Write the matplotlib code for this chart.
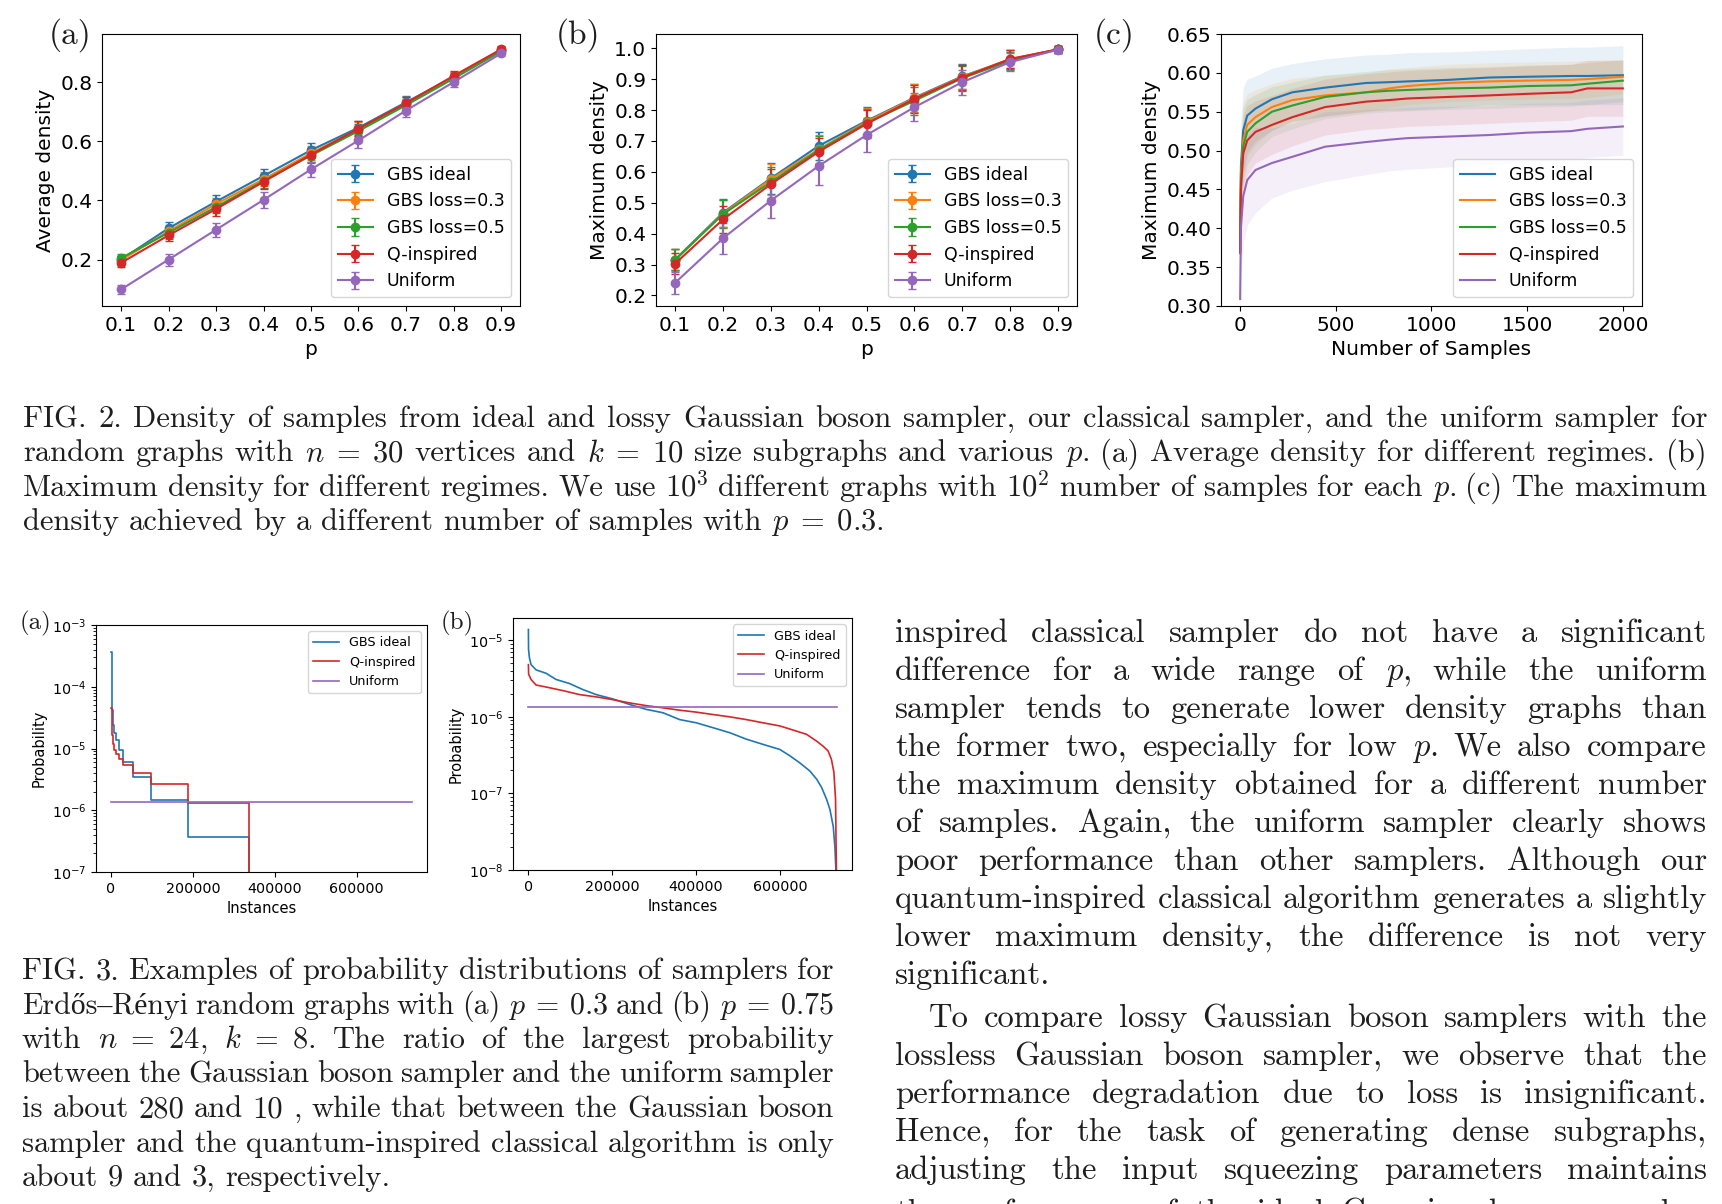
import re
import numpy as np
import matplotlib
matplotlib.use("Agg")
import matplotlib.pyplot as plt

W, H = 1722, 1204
SERIF = ["cmr10", "Liberation Serif", "DejaVu Serif"]
INK = "#1e1e1e"

############################################
# DATA - FIG. 2
############################################
p_vals = [0.1, 0.2, 0.3, 0.4, 0.5, 0.6, 0.7, 0.8, 0.9]
names5 = ["GBS ideal", "GBS loss=0.3", "GBS loss=0.5", "Q-inspired", "Uniform"]

avg_ideal = [0.200, 0.306, 0.396, 0.483, 0.570, 0.646, 0.732, 0.817, 0.908]
avg_loss03 = [0.198, 0.296, 0.388, 0.472, 0.560, 0.641, 0.729, 0.817, 0.908]
avg_loss05 = [0.205, 0.291, 0.378, 0.466, 0.552, 0.635, 0.722, 0.812, 0.904]
avg_qinsp = [0.189, 0.282, 0.371, 0.463, 0.555, 0.643, 0.729, 0.821, 0.911]
avg_unif = [0.099, 0.200, 0.301, 0.402, 0.505, 0.603, 0.704, 0.800, 0.897]
avg_err_gbs = [0.013, 0.020, 0.022, 0.024, 0.024, 0.024, 0.020, 0.017, 0.010]
avg_err_unif = [0.014, 0.020, 0.024, 0.027, 0.026, 0.024, 0.022, 0.018, 0.010]

max_ideal = [0.316, 0.468, 0.579, 0.684, 0.765, 0.840, 0.909, 0.963, 0.996]
max_loss03 = [0.314, 0.465, 0.576, 0.673, 0.762, 0.838, 0.907, 0.965, 0.996]
max_loss05 = [0.316, 0.463, 0.567, 0.670, 0.758, 0.830, 0.903, 0.959, 0.996]
max_qinsp = [0.303, 0.446, 0.560, 0.665, 0.755, 0.836, 0.905, 0.965, 0.996]
max_unif = [0.241, 0.385, 0.507, 0.619, 0.719, 0.809, 0.890, 0.955, 0.995]
max_err_gbs = [0.035, 0.045, 0.050, 0.045, 0.045, 0.045, 0.040, 0.030, 0.010]
max_err_unif = [0.035, 0.050, 0.055, 0.060, 0.055, 0.045, 0.040, 0.030, 0.010]

n_samples = [1, 5, 17, 38, 81, 167, 274, 445, 659, 780, 874, 1088, 1302, 1500, 1730, 1815, 2000]
cur_ideal = [0.370, 0.480, 0.526, 0.545, 0.554, 0.566, 0.575, 0.581, 0.587, 0.588, 0.589,
             0.591, 0.594, 0.595, 0.596, 0.596, 0.597]
cur_loss03 = [0.370, 0.470, 0.513, 0.533, 0.543, 0.556, 0.565, 0.571, 0.575, 0.580, 0.583,
              0.587, 0.589, 0.590, 0.591, 0.592, 0.595]
cur_loss05 = [0.370, 0.460, 0.505, 0.524, 0.535, 0.550, 0.558, 0.569, 0.575, 0.577, 0.578,
              0.580, 0.581, 0.583, 0.584, 0.586, 0.590]
cur_qinsp = [0.368, 0.450, 0.496, 0.513, 0.524, 0.533, 0.543, 0.556, 0.563, 0.565, 0.567,
             0.569, 0.571, 0.573, 0.575, 0.580, 0.580]
cur_unif = [0.309, 0.400, 0.441, 0.462, 0.475, 0.484, 0.492, 0.505, 0.511, 0.514, 0.516,
            0.518, 0.520, 0.523, 0.525, 0.528, 0.531]
sd_ideal = [0.060, 0.060, 0.055, 0.047, 0.042, 0.040, 0.037, 0.037, 0.036, 0.036, 0.037,
            0.036, 0.035, 0.036, 0.037, 0.037, 0.038]
sd_loss03 = [0.060, 0.055, 0.050, 0.040, 0.035, 0.030, 0.028, 0.026, 0.025, 0.025, 0.024,
             0.024, 0.024, 0.024, 0.024, 0.024, 0.022]
sd_loss05 = [0.060, 0.055, 0.050, 0.042, 0.037, 0.032, 0.030, 0.028, 0.027, 0.027, 0.027,
             0.027, 0.027, 0.027, 0.027, 0.027, 0.027]
sd_qinsp = [0.060, 0.055, 0.050, 0.045, 0.040, 0.038, 0.037, 0.036, 0.036, 0.036, 0.036,
            0.036, 0.036, 0.036, 0.036, 0.036, 0.036]
sd_unif = [0.050, 0.060, 0.060, 0.058, 0.055, 0.045, 0.043, 0.045, 0.042, 0.040, 0.040,
           0.039, 0.038, 0.038, 0.037, 0.037, 0.037]

############################################
# DATA - FIG. 3
############################################
names3 = ["GBS ideal", "Q-inspired", "Uniform"]
n_inst = 735471
p_unif = 1.0 / n_inst

inst_a_gbs = [0, 2450, 4900, 8160, 12240, 18770, 30200, 54700, 97900, 187700, 336200]
prob_a_gbs = [3.7e-4, 4.2e-5, 2.4e-5, 1.8e-5, 1.37e-5, 9.4e-6, 6.0e-6, 3.4e-6, 1.49e-6, 3.7e-7, 0]
inst_a_q = [0, 1600, 4100, 8160, 12240, 18770, 30200, 54700, 97900, 187700, 336200]
prob_a_q = [4.5e-5, 1.65e-5, 1.2e-5, 9.4e-6, 8.1e-6, 6.7e-6, 5.4e-6, 4.0e-6, 2.65e-6, 1.31e-6, 0]

inst_b_gbs = [0, 300, 2390, 6370, 18330, 42230, 66130, 98010, 129880, 161750, 200000, 241430,
              281270, 321110, 360950, 400790, 440630, 480470, 520310, 560150, 599990, 623900,
              647800, 671700, 687640, 699590, 711540, 719500, 727480, 731460, 733850, 735470]
prob_b_gbs = [1.38e-5, 7.6e-6, 5.9e-6, 4.8e-6, 4.1e-6, 3.7e-6, 3.07e-6, 2.72e-6, 2.27e-6,
              1.95e-6, 1.72e-6, 1.45e-6, 1.25e-6, 1.13e-6, 9.2e-7, 8.35e-7, 7.2e-7, 6.2e-7,
              5.1e-7, 4.36e-7, 3.75e-7, 3.1e-7, 2.5e-7, 1.96e-7, 1.54e-7, 1.2e-7, 8.4e-8,
              6.2e-8, 3.7e-8, 2.0e-8, 1.0e-8, 0]
inst_b_q = [0, 500, 6400, 18300, 42200, 82000, 122000, 162000, 200000, 241000, 281000, 321000,
            361000, 401000, 441000, 480000, 520000, 560000, 600000, 640000, 664000, 688000,
            703000, 715000, 723000, 729000, 733000, 735000, 735470]
prob_b_q = [4.8e-6, 3.6e-6, 3.07e-6, 2.6e-6, 2.45e-6, 2.2e-6, 1.95e-6, 1.82e-6, 1.68e-6,
            1.52e-6, 1.4e-6, 1.31e-6, 1.22e-6, 1.15e-6, 1.07e-6, 1.0e-6, 9.2e-7, 8.35e-7,
            7.6e-7, 6.5e-7, 5.9e-7, 4.8e-7, 4.15e-7, 3.6e-7, 2.8e-7, 1.9e-7, 8.4e-8, 1.0e-8, 0]

############################################
# TEXT
############################################
cap2 = [
    "FIG. 2.  Density of samples from ideal and lossy Gaussian boson sampler, our classical sampler, and the uniform sampler for",
    "random graphs with $n\\;=\\;30$ vertices and $k\\;=\\;10$ size subgraphs and various $p$. (a) Average density for different regimes. (b)",
    "Maximum density for different regimes. We use $10^3$ different graphs with $10^2$ number of samples for each $p$. (c) The maximum",
    "density achieved by a different number of samples with $p\\;=\\;0.3$.",
]
cap3 = [
    "FIG. 3.  Examples of probability distributions of samplers for",
    "Erdős–Rényi random graphs with (a) $p\\:=\\:0.3$ and (b) $p\\:=\\:0.75$",
    "with $n\\ =\\ 24$, $k\\ =\\ 8$.  The ratio of the largest probability",
    "between the Gaussian boson sampler and the uniform sampler",
    "is about 280 and 10 , while that between the Gaussian boson",
    "sampler and the quantum-inspired classical algorithm is only",
    "about 9 and 3, respectively.",
]
body1 = [
    "inspired classical sampler do not have a significant",
    "difference for a wide range of $p$, while the uniform",
    "sampler tends to generate lower density graphs than",
    "the former two, especially for low $p$.  We also compare",
    "the maximum density obtained for a different number",
    "of samples.  Again, the uniform sampler clearly shows",
    "poor performance than other samplers.  Although our",
    "quantum-inspired classical algorithm generates a slightly",
    "lower maximum density, the difference is not very",
    "significant.",
]
body2 = [
    "To compare lossy Gaussian boson samplers with the",
    "lossless Gaussian boson sampler, we observe that the",
    "performance degradation due to loss is insignificant.",
    "Hence, for the task of generating dense subgraphs,",
    "adjusting the input squeezing parameters maintains",
]
body2_cut = ["the performance of the ideal Gaussian boson sampler."]

############################################
# FIGURE
############################################
fig = plt.figure(figsize=(W / 100, H / 100), dpi=100)


def box(x0, y0, x1, y1):
    return [x0 / W, 1 - y1 / H, (x1 - x0) / W, (y1 - y0) / H]


def paragraph(lines, x0, x1, y_first, step, size, indent=0, ragged_last=True):
    rend = fig.canvas.get_renderer()
    for i, line in enumerate(lines):
        words = re.findall(r"(?:\$[^$]*\$|[^\s$])+", line)
        left = x0 + (indent if i == 0 else 0)
        y = 1 - (y_first + i * step) / H
        last = (i == len(lines) - 1 and ragged_last) or len(words) < 2
        s = size
        while True:
            objs = [fig.text(0, y, w, fontsize=s, family=SERIF, math_fontfamily="cm",
                             ha="left", va="baseline", color=INK) for w in words]
            widths = [o.get_window_extent(rend).width for o in objs]
            em = s * 100 / 72
            if last:
                gap = em * 0.32
                break
            gap = (x1 - left - sum(widths)) / (len(words) - 1)
            if gap >= 0.24 * em or s < size * 0.9:
                break
            # line too tight: shrink this line a little and measure again
            for o in objs:
                o.remove()
            s *= 0.99
        x = left
        for o, w in zip(objs, widths):
            o.set_x(x / W)
            x += w + gap


colors = ["C0", "C1", "C2", "C3", "C4"]
TICK = 14.5
LAB = 14.5
LEG = 12.5

# ---- FIG 2 (a) ----
axA = fig.add_axes(box(102, 34, 520, 306))
for ys, es, lab, c in zip([avg_ideal, avg_loss03, avg_loss05, avg_qinsp, avg_unif],
                          [avg_err_gbs] * 4 + [avg_err_unif], names5, colors):
    axA.errorbar(p_vals, ys, yerr=es, marker="o", ms=6, capsize=3, color=c, label=lab)
axA.set_xticks(p_vals)
axA.set_yticks([0.2, 0.4, 0.6, 0.8])
axA.set_xlabel("p", fontsize=LAB)
axA.set_ylabel("Average density", fontsize=LAB)
axA.tick_params(labelsize=TICK)
axA.legend(loc="lower right", fontsize=LEG)

# ---- FIG 2 (b) ----
axB = fig.add_axes(box(656, 34, 1077, 306))
for ys, es, lab, c in zip([max_ideal, max_loss03, max_loss05, max_qinsp, max_unif],
                          [max_err_gbs] * 4 + [max_err_unif], names5, colors):
    axB.errorbar(p_vals, ys, yerr=es, marker="o", ms=6, capsize=3, color=c, label=lab)
axB.set_xticks(p_vals)
axB.set_yticks([0.2, 0.3, 0.4, 0.5, 0.6, 0.7, 0.8, 0.9, 1.0])
axB.set_xlabel("p", fontsize=LAB)
axB.set_ylabel("Maximum density", fontsize=LAB)
axB.tick_params(labelsize=TICK)
axB.legend(loc="lower right", fontsize=LEG)

# ---- FIG 2 (c) ----
axC = fig.add_axes(box(1221, 34, 1642, 306))
for ys, sd, lab, c in zip([cur_ideal, cur_loss03, cur_loss05, cur_qinsp, cur_unif],
                          [sd_ideal, sd_loss03, sd_loss05, sd_qinsp, sd_unif], names5, colors):
    ys = np.array(ys)
    sd = np.array(sd)
    axC.plot(n_samples, ys, color=c, lw=1.5, label=lab)
    axC.fill_between(n_samples, ys - sd, ys + sd, color=c, alpha=0.1, lw=0)
axC.set_ylim(0.30, 0.65)
axC.set_yticks([0.30, 0.35, 0.40, 0.45, 0.50, 0.55, 0.60, 0.65])
axC.yaxis.set_major_formatter(matplotlib.ticker.FormatStrFormatter("%.2f"))
axC.set_xlabel("Number of Samples", fontsize=LAB)
axC.set_ylabel("Maximum density", fontsize=LAB)
axC.tick_params(labelsize=TICK)
axC.legend(loc="lower right", fontsize=LEG)

# ---- FIG 3 (a) ----
ax3a = fig.add_axes(box(96, 625, 427, 872))
ax3a.plot(inst_a_gbs, prob_a_gbs, color="C0", lw=1.2, drawstyle="steps-post", label=names3[0])
ax3a.plot(inst_a_q, prob_a_q, color="C3", lw=1.2, drawstyle="steps-post", label=names3[1])
ax3a.plot([0, n_inst - 1], [p_unif, p_unif], color="C4", lw=1.2, label=names3[2])
ax3a.set_yscale("log", nonpositive="clip")
ax3a.set_ylim(1e-7, 1e-3)
ax3a.set_xlabel("Instances", fontsize=10.5)
ax3a.set_ylabel("Probability", fontsize=10.5)
ax3a.tick_params(labelsize=10.3)
ax3a.legend(loc="upper right", fontsize=9.2)

# ---- FIG 3 (b) ----
ax3b = fig.add_axes(box(513, 618, 852, 870))
ax3b.plot(inst_b_gbs, prob_b_gbs, color="C0", lw=1.2, label=names3[0])
ax3b.plot(inst_b_q, prob_b_q, color="C3", lw=1.2, label=names3[1])
ax3b.plot([0, n_inst - 1], [p_unif, p_unif], color="C4", lw=1.2, label=names3[2])
ax3b.set_yscale("log", nonpositive="clip")
ax3b.set_ylim(1e-8, 1.95e-5)
ax3b.set_xlabel("Instances", fontsize=10.5)
ax3b.set_ylabel("Probability", fontsize=10.5)
ax3b.tick_params(labelsize=10.3)
ax3b.legend(loc="upper right", fontsize=9.2)

# ---- panel letters ----
for lab, x, y, s in [("(a)", 49, 44, 24), ("(b)", 556, 44, 24), ("(c)", 1094, 44, 24),
                     ("(a)", 20, 629, 18), ("(b)", 441, 629, 18)]:
    fig.text(x / W, 1 - y / H, lab, fontsize=s, family=SERIF, va="baseline", color=INK)

# ---- captions and body text ----
paragraph(cap2, 23, 1707, 427, 34.4, 22)
paragraph(cap3, 22, 834, 979, 34.5, 22)
paragraph(body1, 895, 1707, 642, 38, 23.5)
paragraph(body2, 895, 1707, 1027, 38, 23.5, indent=34, ragged_last=False)
# last line of the column runs off the bottom of the page
paragraph(body2_cut, 895, 1707, 1222, 38, 23.5, ragged_last=False)

fig.savefig("out.png", dpi=100)
